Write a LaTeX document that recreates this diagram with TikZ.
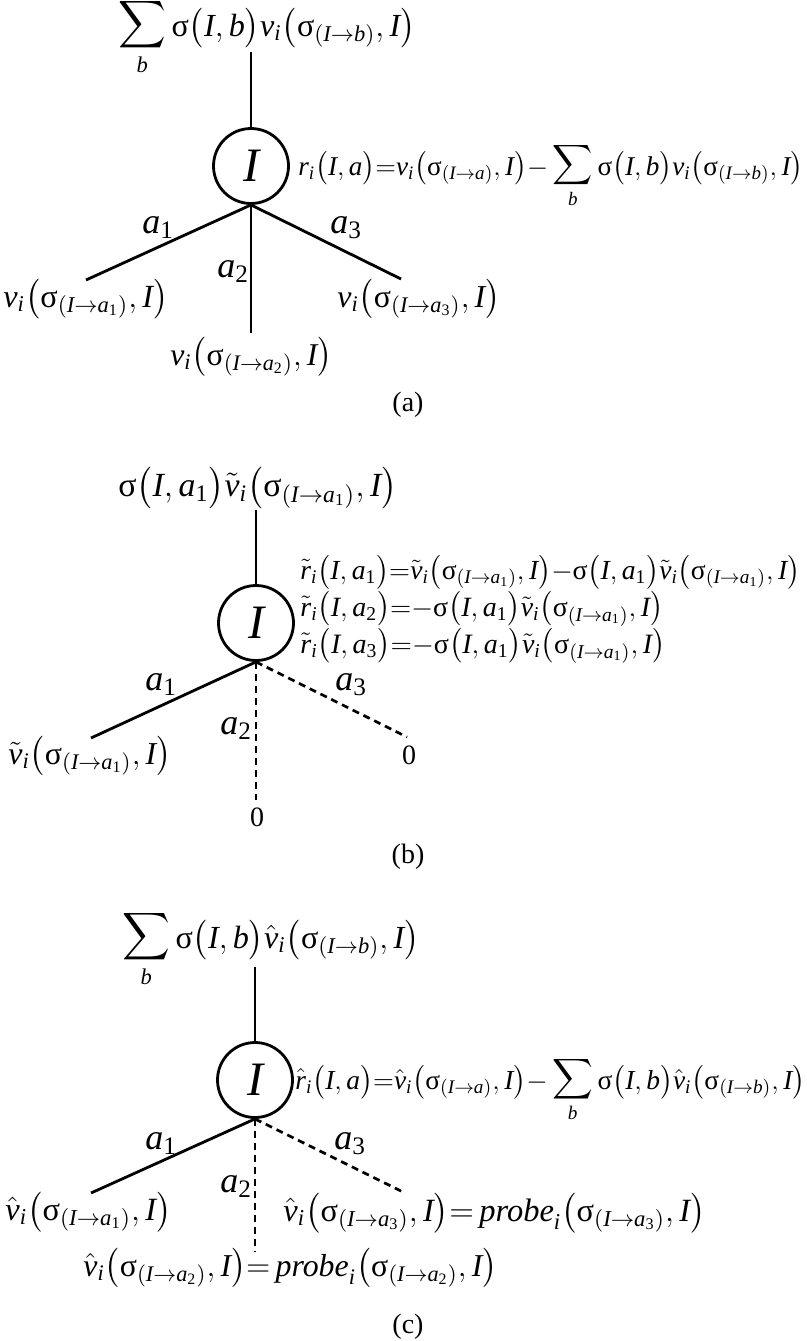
\RequirePackage{fix-cm}
\documentclass[tikz,border=0pt]{standalone}
\usepackage{amsmath}
\usepackage[no-math]{fontspec}
\setmainfont{Liberation Serif}
\usepackage{graphicx}
\newcommand\mi[1]{\textit{#1}}
\newcommand\tu[1]{\textup{#1}}
\newcommand\sgm{\textup{σ}}
\newcommand\fw[2]{\resizebox{#1}{!}{#2}}
\newcommand\Vf[2]{{#1}_{\mi{i}}\bigl(\sgm_{(\mi{I}\to #2)},\mi{I}\bigr)}
\newcommand\ai[1]{\mi{a}_{\tu{#1}}}
\newcommand\myvt{\tilde{\mi{v}}}
\newcommand\myvh{\hat{\mi{v}}}
\newcommand\myrt{\tilde{\mi{r}}}
\newcommand\myrh{\hat{\mi{r}}}
\newcommand\sumb{\mathop{\raisebox{1.5pt}{$\displaystyle\sum$}}\limits_{\mi{b}}}
\newcommand\sIb{\sgm\bigl(\mi{I},\mi{b}\bigr)}
\newcommand\sIa{\sgm\bigl(\mi{I},\ai{1}\bigr)}
\begin{document}
\begin{tikzpicture}[x=0.5pt,y=-0.5pt,
  fm/.style={anchor=base west,inner sep=0pt,font=\fontsize{14pt}{16pt}\selectfont},
  lab/.style={anchor=base west,inner sep=0pt,font=\fontsize{18pt}{20pt}\selectfont},
  captxt/.style={inner sep=0pt,font=\fontsize{14pt}{16pt}\selectfont},
  zerotxt/.style={inner sep=0pt,font=\fontsize{14pt}{16pt}\selectfont},
  infoset/.style={circle,draw,line width=1.4pt,minimum size=37.5pt,inner sep=0pt,font=\fontsize{24pt}{24pt}\selectfont\itshape},
  br/.style={line width=1.4pt},
  dsh/.style={line width=1.35pt,dash pattern=on 3.5pt off 2.5pt}]
\fill[white] (0,0) rectangle (807,1341);
\useasboundingbox (0,0) rectangle (807,1341);

% ---------------- (a) ----------------
\node[fm] (ta) at (118,36) {\fw{148.5pt}{$\sumb\sIb\Vf{\mi{v}}{\mi{b}}$}};
\coordinate (tae) at (251,52);
\node[infoset] (ca) at (251,166) {I};
\node[fm] (ra) at (298,175) {\fw{252.5pt}{$\mi{r}_{\mi{i}}\bigl(\mi{I},\mi{a}\bigr){=}\Vf{\mi{v}}{\mi{a}}{-}\sumb\sIb\Vf{\mi{v}}{\mi{b}}$}};
\coordinate (ea1) at (86,280);
\coordinate (ea2) at (251,333);
\coordinate (ea3) at (401,279);
\draw[br] (tae) -- (ca.north);
\draw[br] (ca.south) -- (ea1);
\draw[br] (ca.south) -- (ea2);
\draw[br] (ca.south) -- (ea3);
\node[lab] (aa1) at (142,233) {$\ai{1}$};
\node[lab] (aa2) at (217,277) {$\ai{2}$};
\node[lab] (aa3) at (330,233) {$\ai{3}$};
\node[fm] (la1) at (3,307) {\fw{82.5pt}{$\Vf{\mi{v}}{\ai{1}}$}};
\node[fm] (la3) at (337,307) {\fw{81.5pt}{$\Vf{\mi{v}}{\ai{3}}$}};
\node[fm] (la2) at (170,365) {\fw{81pt}{$\Vf{\mi{v}}{\ai{2}}$}};
\node[captxt] (capa) at (408,405) {(a)};

% ---------------- (b) ----------------
\node[fm] (tb) at (118,496) {\fw{139.5pt}{$\sIa\Vf{\myvt}{\ai{1}}$}};
\coordinate (tbe) at (256,510);
\node[infoset] (cb) at (256,623) {I};
\node[fm] (rb1) at (300,579) {\fw{250pt}{$\myrt_{\mi{i}}\bigl(\mi{I},\ai{1}\bigr){=}\Vf{\myvt}{\ai{1}}{-}\sIa\Vf{\myvt}{\ai{1}}$}};
\node[fm] (rb2) at (300,616) {\fw{181.5pt}{$\myrt_{\mi{i}}\bigl(\mi{I},\ai{2}\bigr){=}{-}\sIa\Vf{\myvt}{\ai{1}}$}};
\node[fm] (rb3) at (300,653) {\fw{182.5pt}{$\myrt_{\mi{i}}\bigl(\mi{I},\ai{3}\bigr){=}{-}\sIa\Vf{\myvt}{\ai{1}}$}};
\coordinate (eb1) at (91,738);
\coordinate (eb2) at (256,800);
\coordinate (eb3) at (407,737);
\draw[br] (tbe) -- (cb.north);
\draw[br] (cb.south) -- (eb1);
\draw[dsh] (cb.south) -- (eb2);
\draw[dsh] (cb.south) -- (eb3);
\node[lab] (ba1) at (145,690) {$\ai{1}$};
\node[lab] (ba2) at (220,734) {$\ai{2}$};
\node[lab] (ba3) at (335,690) {$\ai{3}$};
\node[fm] (lb1) at (8,764) {\fw{81.5pt}{$\Vf{\myvt}{\ai{1}}$}};
\node[zerotxt] (zb3) at (409,755) {0};
\node[zerotxt] (zb2) at (257,817) {0};
\node[captxt] (capb) at (408,857) {(b)};

% ---------------- (c) ----------------
\node[fm] (tc) at (122,948) {\fw{148.5pt}{$\sumb\sIb\Vf{\myvh}{\mi{b}}$}};
\coordinate (tce) at (255,967);
\node[infoset] (cc) at (255,1080) {I};
\node[fm] (rc) at (295,1089) {\fw{255pt}{$\myrh_{\mi{i}}\bigl(\mi{I},\mi{a}\bigr){=}\Vf{\myvh}{\mi{a}}{-}\sumb\sIb\Vf{\myvh}{\mi{b}}$}};
\coordinate (ec1) at (91,1193);
\coordinate (ec2) at (255,1252);
\coordinate (ec3) at (405,1193);
\draw[br] (tce) -- (cc.north);
\draw[br] (cc.south) -- (ec1);
\draw[dsh] (cc.south) -- (ec2);
\draw[dsh] (cc.south) -- (ec3);
\node[lab] (ca1) at (145,1149) {$\ai{1}$};
\node[lab] (ca2) at (220,1192) {$\ai{2}$};
\node[lab] (ca3) at (334,1149) {$\ai{3}$};
\node[fm] (lc1) at (5,1220) {\fw{83pt}{$\Vf{\myvh}{\ai{1}}$}};
\node[fm] (lc3) at (283,1221) {\fw{211pt}{$\Vf{\myvh}{\ai{3}}{=}\,\Vf{\mi{probe}}{\ai{3}}$}};
\node[fm] (lc2) at (83,1276) {\fw{207pt}{$\Vf{\myvh}{\ai{2}}{=}\,\Vf{\mi{probe}}{\ai{2}}$}};
\node[captxt] (capc) at (408,1327) {(c)};
\end{tikzpicture}
\end{document}
